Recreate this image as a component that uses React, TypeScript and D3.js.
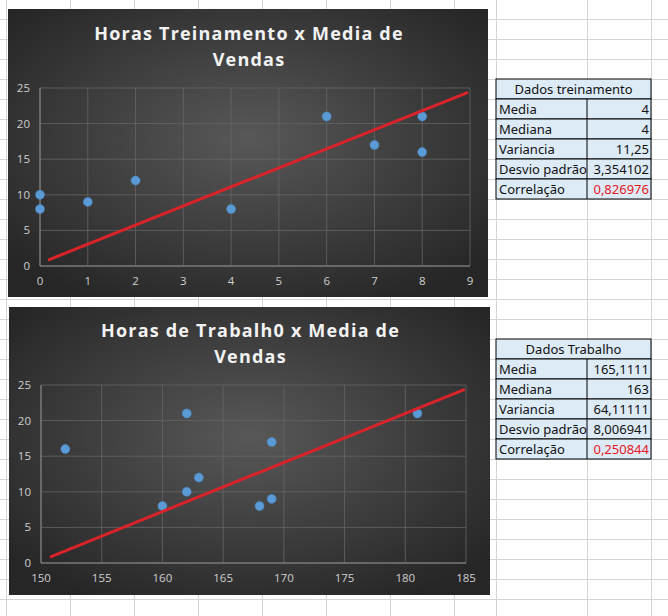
import React from 'react';
import * as d3 from 'd3';

// chart 1: horas de treinamento x media de vendas
const treinoHoras = [0, 0, 1, 2, 4, 6, 7, 8, 8];
const treinoVendas = [10, 8, 9, 12, 8, 21, 17, 21, 16];
const treinoLinhaX = [0.17, 8.96];
const treinoLinhaY = [0.84, 24.4];

// chart 2: horas de trabalho x media de vendas
const trabalhoHoras = [152, 160, 162, 162, 163, 168, 169, 169, 181];
const trabalhoVendas = [16, 8, 21, 10, 12, 8, 17, 9, 21];
const trabalhoLinhaX = [150.74, 184.9];
const trabalhoLinhaY = [0.84, 24.4];

const yTicks = [0, 5, 10, 15, 20, 25];
const treinoXTicks = [0, 1, 2, 3, 4, 5, 6, 7, 8, 9];
const trabalhoXTicks = [150, 155, 160, 165, 170, 175, 180, 185];

const tabelaLabels = ['Media', 'Mediana', 'Variancia', 'Desvio padrão', 'Correlação'];
const treinoStats = ['4', '4', '11,25', '3,354102', '0,826976'];
const trabalhoStats = ['165,1111', '163', '64,11111', '8,006941', '0,250844'];

const colLines = [6, 70, 134, 198, 262, 326, 390, 454, 496, 587, 651];

interface ScatterProps {
  id: string;
  box: [number, number, number, number];
  plot: [number, number, number, number];
  title: string[];
  titleY: number;
  xs: number[];
  ys: number[];
  xTicks: number[];
  lineX: number[];
  lineY: number[];
}

function Scatter({ id, box, plot, title, titleY, xs, ys, xTicks, lineX, lineY }: ScatterProps) {
  const [bx, by, bw, bh] = box;
  const [px0, py0, px1, py1] = plot;
  const x = d3.scaleLinear().domain([xTicks[0], xTicks[xTicks.length - 1]]).range([px0, px1]);
  const y = d3.scaleLinear().domain([0, 25]).range([py1, py0]);
  const line = d3.line<number>().x((d) => x(d)).y((_, i) => y(lineY[i]));

  return (
    <g>
      <defs>
        <radialGradient id={id} cx="50%" cy="45%" r="65%">
          <stop offset="0%" stopColor="#585858" />
          <stop offset="100%" stopColor="#262626" />
        </radialGradient>
      </defs>
      <rect x={bx} y={by} width={bw} height={bh} fill={`url(#${id})`} />
      {title.map((t, i) => (
        <text
          key={i}
          x={bx + bw / 2 + 1}
          y={titleY + i * 26}
          textAnchor="middle"
          fill="#f2f2f2"
          fontSize={18}
          fontWeight="bold"
          letterSpacing={1.2}
          fontFamily="'Open Sans', sans-serif"
        >
          {t}
        </text>
      ))}
      {yTicks.map((t) => (
        <g key={'y' + t}>
          <line x1={px0} x2={px1} y1={y(t)} y2={y(t)} stroke="#666" strokeWidth={0.8} />
          <text x={px0 - 10} y={y(t) + 4} textAnchor="end" fill="#cfcfcf" fontSize={11.5} fontFamily="'Open Sans', sans-serif">
            {t}
          </text>
        </g>
      ))}
      {xTicks.map((t) => (
        <g key={'x' + t}>
          <line x1={x(t)} x2={x(t)} y1={py0} y2={py1} stroke="#666" strokeWidth={0.8} />
          <text x={x(t)} y={py1 + 19} textAnchor="middle" fill="#cfcfcf" fontSize={11.5} fontFamily="'Open Sans', sans-serif">
            {t}
          </text>
        </g>
      ))}
      <line x1={px0} x2={px1} y1={py1} y2={py1} stroke="#8a8a8a" strokeWidth={1} />
      <line x1={px0} x2={px0} y1={py0} y2={py1} stroke="#8a8a8a" strokeWidth={1} />
      {xs.map((d, i) => (
        <circle key={i} cx={x(d)} cy={y(ys[i])} r={4.5} fill="#5b9bd5" stroke="#4a86c0" strokeWidth={0.6} />
      ))}
      <path d={line(lineX) || ''} stroke="#d9232a" strokeWidth={3} fill="none" />
    </g>
  );
}

function Tabela({ top, title, values }: { top: number; title: string; values: string[] }) {
  const left = 496;
  const mid = 587;
  const right = 651;
  const rowH = 20;
  const rows = [title, ...tabelaLabels];
  const font = "'Noto Sans', sans-serif";
  return (
    <g fontFamily={font} fontSize={13}>
      {rows.map((_, i) => (
        <rect key={i} x={left} y={top + i * rowH} width={right - left} height={rowH} fill="#ddebf7" stroke="#000" strokeWidth={1} />
      ))}
      <line x1={mid} x2={mid} y1={top + rowH} y2={top + rowH * rows.length} stroke="#000" />
      <text x={(left + right) / 2} y={top + 15} textAnchor="middle" fill="#111">
        {title}
      </text>
      {tabelaLabels.map((l, i) => (
        <g key={l}>
          <text x={left + 3} y={top + (i + 1) * rowH + 15} fill="#111">
            {l}
          </text>
          <text x={right - 2} y={top + (i + 1) * rowH + 15} textAnchor="end" fill={i === tabelaLabels.length - 1 ? '#e8161f' : '#111'}>
            {values[i]}
          </text>
        </g>
      ))}
    </g>
  );
}

export default function App() {
  const W = 668;
  const H = 616;
  const rowLines = d3.range(-1, H, 20);
  return (
    <svg width={W} height={H} style={{ position: 'absolute', left: 0, top: 0, background: '#fff' }}>
      {rowLines.map((r) => (
        <line key={'r' + r} x1={0} x2={W} y1={r + 0.5} y2={r + 0.5} stroke="#d4d4d4" />
      ))}
      {colLines.map((c) => (
        <line key={'c' + c} x1={c + 0.5} x2={c + 0.5} y1={0} y2={H} stroke="#d4d4d4" />
      ))}
      <Scatter
        id="bg1"
        box={[8, 9, 480, 288]}
        plot={[40, 88, 470, 266]}
        title={['Horas Treinamento x Media de', 'Vendas']}
        titleY={40}
        xs={treinoHoras}
        ys={treinoVendas}
        xTicks={treinoXTicks}
        lineX={treinoLinhaX}
        lineY={treinoLinhaY}
      />
      <Scatter
        id="bg2"
        box={[9, 307, 481, 288]}
        plot={[41, 385, 466, 563]}
        title={['Horas de Trabalh0 x Media de', 'Vendas']}
        titleY={337}
        xs={trabalhoHoras}
        ys={trabalhoVendas}
        xTicks={trabalhoXTicks}
        lineX={trabalhoLinhaX}
        lineY={trabalhoLinhaY}
      />
      <Tabela top={79} title="Dados treinamento" values={treinoStats} />
      <Tabela top={339} title="Dados Trabalho" values={trabalhoStats} />
    </svg>
  );
}
